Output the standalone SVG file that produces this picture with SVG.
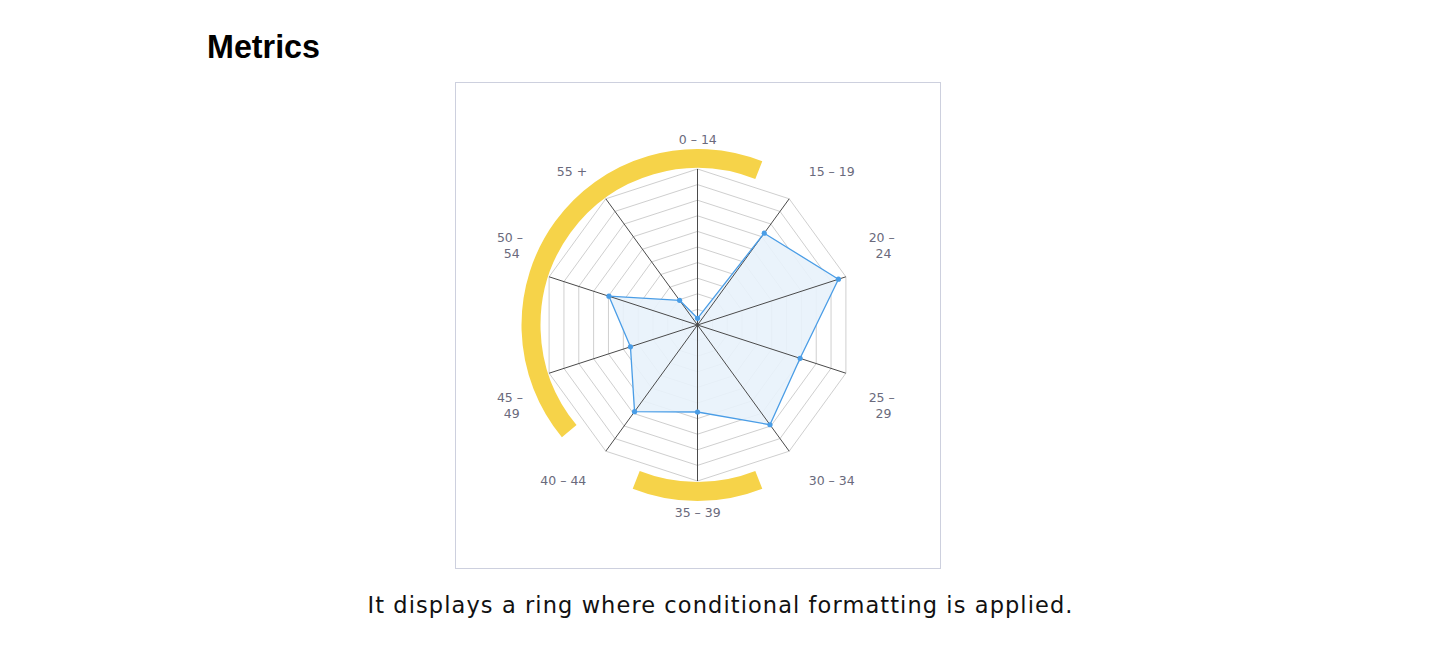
<svg xmlns="http://www.w3.org/2000/svg" xmlns:xlink="http://www.w3.org/1999/xlink" width="1440" height="646" viewBox="0 0 1440 646">
  <style>
    .title { font-family: "Liberation Sans", Arial, sans-serif; font-weight: bold; font-size: 33px; fill: #000; }
    .caption { font-family: "DejaVu Sans", "Liberation Sans", sans-serif; font-size: 22.5px; fill: #111; }
    .lbl { font-family: "DejaVu Sans", "Liberation Sans", sans-serif; font-size: 12.5px; fill: #6a6a7c; text-anchor: middle; }
    .grid { fill: none; stroke: #cfcfcf; stroke-width: 1; vector-effect: non-scaling-stroke; }
    .axis { stroke: #4a4a4a; stroke-width: 1; }
    .ring { fill: none; stroke: #f6d349; stroke-width: 19; }
    .series { fill: #e8f2fb; fill-opacity: 0.9; stroke: #4a9de6; stroke-width: 1.3; stroke-linejoin: round; }
    .dot { fill: #4a9de6; }
  </style>
  <defs>
    <polygon id="deca" class="grid" points="0,-15.6 9.17,-12.62 14.84,-4.82 14.84,4.82 9.17,12.62 0,15.6 -9.17,12.62 -14.84,4.82 -14.84,-4.82 -9.17,-12.62"/>
  </defs>
  <rect width="1440" height="646" fill="#fff"/>
  <text class="title" x="207" y="57.5" textLength="113" lengthAdjust="spacingAndGlyphs">Metrics</text>

  <g id="chart">
    <rect id="frame" x="455.5" y="82.5" width="485" height="486" fill="#fff" stroke="#cdd0de" stroke-width="1"/>
    <g id="grid">
      <use xlink:href="#deca" transform="translate(697.5 325) scale(1)"/>
      <use xlink:href="#deca" transform="translate(697.5 325) scale(2)"/>
      <use xlink:href="#deca" transform="translate(697.5 325) scale(3)"/>
      <use xlink:href="#deca" transform="translate(697.5 325) scale(4)"/>
      <use xlink:href="#deca" transform="translate(697.5 325) scale(5)"/>
      <use xlink:href="#deca" transform="translate(697.5 325) scale(6)"/>
      <use xlink:href="#deca" transform="translate(697.5 325) scale(7)"/>
      <use xlink:href="#deca" transform="translate(697.5 325) scale(8)"/>
      <use xlink:href="#deca" transform="translate(697.5 325) scale(9)"/>
      <use xlink:href="#deca" transform="translate(697.5 325) scale(10)"/>
    </g>
    <g id="series-area">
      <polygon class="series" style="stroke:none" points="697.5,318.3 764.2,233.2 838.45,279.2 800.1,358.3 769.97,424.75 697.5,412 634.55,411.64 630.45,346.8 608.95,296.2 679.6,300.3"/>
    </g>
    <g id="axes">
      <line class="axis" x1="697.5" y1="325" x2="697.5" y2="169"/>
      <line class="axis" x1="697.5" y1="325" x2="789.2" y2="198.8"/>
      <line class="axis" x1="697.5" y1="325" x2="845.87" y2="276.8"/>
      <line class="axis" x1="697.5" y1="325" x2="845.87" y2="373.2"/>
      <line class="axis" x1="697.5" y1="325" x2="789.2" y2="451.2"/>
      <line class="axis" x1="697.5" y1="325" x2="697.5" y2="481"/>
      <line class="axis" x1="697.5" y1="325" x2="605.8" y2="451.2"/>
      <line class="axis" x1="697.5" y1="325" x2="549.13" y2="373.2"/>
      <line class="axis" x1="697.5" y1="325" x2="549.13" y2="276.8"/>
      <line class="axis" x1="697.5" y1="325" x2="605.8" y2="198.8"/>
    </g>
    <g id="series-line">
      <polygon class="series" style="fill:none" points="697.5,318.3 764.2,233.2 838.45,279.2 800.1,358.3 769.97,424.75 697.5,412 634.55,411.64 630.45,346.8 608.95,296.2 679.6,300.3"/>
      <circle class="dot" cx="697.5" cy="318.3" r="2.6"/>
      <circle class="dot" cx="764.2" cy="233.2" r="2.6"/>
      <circle class="dot" cx="838.45" cy="279.2" r="2.6"/>
      <circle class="dot" cx="800.1" cy="358.3" r="2.6"/>
      <circle class="dot" cx="769.97" cy="424.75" r="2.6"/>
      <circle class="dot" cx="697.5" cy="412" r="2.6"/>
      <circle class="dot" cx="634.55" cy="411.64" r="2.6"/>
      <circle class="dot" cx="630.45" cy="346.8" r="2.6"/>
      <circle class="dot" cx="608.95" cy="296.2" r="2.6"/>
      <circle class="dot" cx="679.6" cy="300.3" r="2.6"/>
    </g>
    <g id="format-ring">
      <path class="ring" d="M 569.21 431.13 A 166.5 166.5 0 0 1 758.79 170.19"/>
      <path class="ring" d="M 758.79 479.81 A 166.5 166.5 0 0 1 636.21 479.81"/>
    </g>
    <g id="labels">
      <text class="lbl" x="697.8" y="143.7">0 – 14</text>
      <text class="lbl" x="831.7" y="175.6">15 – 19</text>
      <text class="lbl" x="881.7" y="241.5">20 –</text>
      <text class="lbl" x="883.5" y="258">24</text>
      <text class="lbl" x="881.7" y="401.6">25 –</text>
      <text class="lbl" x="883.5" y="418.2">29</text>
      <text class="lbl" x="831.7" y="484.8">30 – 34</text>
      <text class="lbl" x="697.7" y="516.5">35 – 39</text>
      <text class="lbl" x="563.3" y="484.8">40 – 44</text>
      <text class="lbl" x="510" y="401.6">45 –</text>
      <text class="lbl" x="511.7" y="418.2">49</text>
      <text class="lbl" x="510" y="241.5">50 –</text>
      <text class="lbl" x="511.7" y="258">54</text>
      <text class="lbl" x="572" y="175.6">55 +</text>
    </g>
  </g>

  <text class="caption" x="367.5" y="613.3" textLength="705" lengthAdjust="spacing">It displays a ring where conditional formatting is applied.</text>
</svg>
